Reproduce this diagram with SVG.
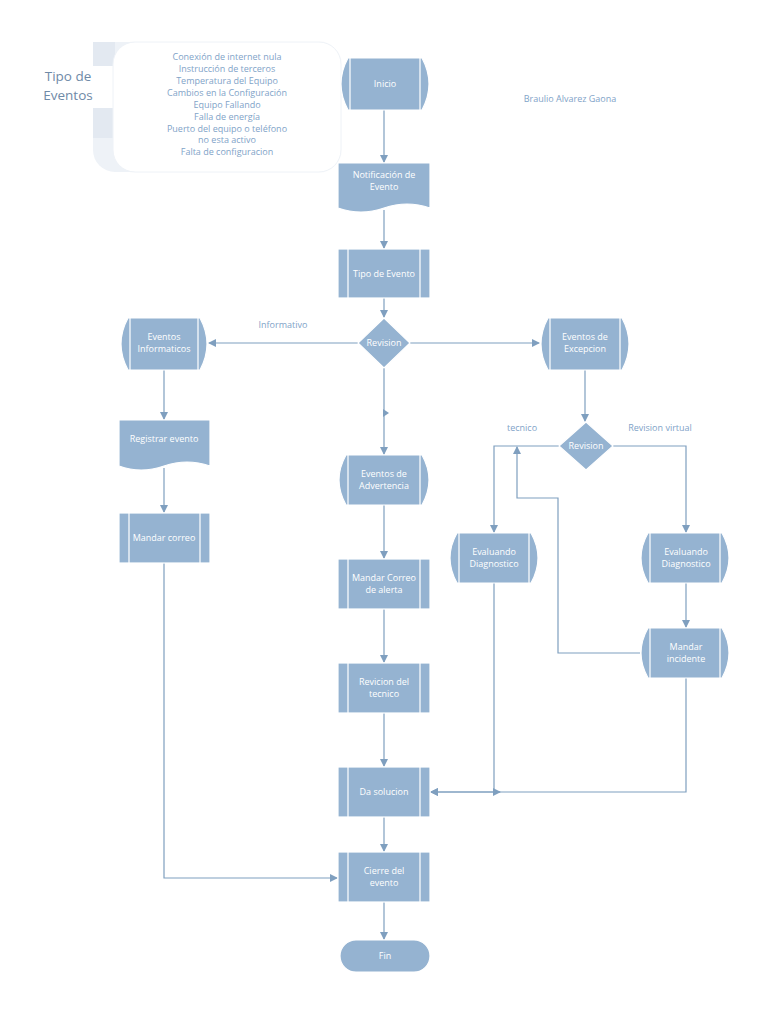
<svg xmlns="http://www.w3.org/2000/svg" width="768" height="1024" viewBox="0 0 768 1024">
<defs>
<style>
.n{fill:#95b3d1;stroke:#fff;stroke-width:1.2}
.t{font-family:"Open Sans","Liberation Sans",sans-serif;font-size:9px;fill:#fff;text-anchor:middle}
.l{font-family:"Open Sans","Liberation Sans",sans-serif;font-size:9px;fill:#7fa3c8;text-anchor:middle}
.c{fill:none;stroke:#7f9fbf;stroke-width:1.2}
.w{fill:none;stroke:#fff;stroke-width:1.2}
</style>
<marker id="a" markerWidth="8" markerHeight="8" refX="7" refY="4" orient="auto" markerUnits="userSpaceOnUse"><path d="M0,0L8,4L0,8z" fill="#7f9fbf"/></marker>
</defs>
<g id="legend">
<rect x="93" y="42" width="240" height="130" rx="22" fill="#eef2f7"/>
<rect x="93" y="42" width="22" height="24" fill="#e3e9f1"/>
<rect x="93" y="108" width="22" height="30" fill="#e3e9f1"/>
<rect x="40" y="66" width="75" height="42" fill="#fff"/>
<rect x="113" y="42" width="228" height="130" rx="22" fill="#fff" stroke="#eef2f7"/>
<text x="68" y="81" style="font-family:'Open Sans','Liberation Sans',sans-serif;font-size:13.5px;fill:#6f8aa7;text-anchor:middle">Tipo de</text>
<text x="68" y="100" style="font-family:'Open Sans','Liberation Sans',sans-serif;font-size:13.5px;fill:#6f8aa7;text-anchor:middle">Eventos</text>
<text class="l" x="227" y="60">Conexión de internet nula</text>
<text class="l" x="227" y="72">Instrucción de terceros</text>
<text class="l" x="227" y="84">Temperatura del Equipo</text>
<text class="l" x="227" y="96">Cambios en la Configuración</text>
<text class="l" x="227" y="108">Equipo Fallando</text>
<text class="l" x="227" y="120">Falla de energía</text>
<text class="l" x="227" y="132">Puerto del equipo o teléfono</text>
<text class="l" x="227" y="143">no esta activo</text>
<text class="l" x="227" y="155">Falta de configuracion</text>
</g>
<text class="l" x="570" y="102">Braulio Alvarez Gaona</text>
<g id="connectors">
<path class="c" d="M384,110V162" marker-end="url(#a)"/>
<path class="c" d="M384,210V248" marker-end="url(#a)"/>
<path class="c" d="M384,298V317" marker-end="url(#a)"/>
<path class="c" d="M358,343H209" marker-end="url(#a)"/>
<path class="c" d="M410,343H539" marker-end="url(#a)"/>
<path class="c" d="M384,368V454" marker-end="url(#a)"/>
<path d="M383,409L389,413L383,417z" fill="#7f9fbf"/>
<path class="c" d="M164,370V419" marker-end="url(#a)"/>
<path class="c" d="M164,468V512" marker-end="url(#a)"/>
<path class="c" d="M164,563V878H337" marker-end="url(#a)"/>
<path class="c" d="M585,370V421" marker-end="url(#a)"/>
<path class="c" d="M559,446H494V532" marker-end="url(#a)"/>
<path class="c" d="M613,446H686V532" marker-end="url(#a)"/>
<path class="c" d="M686,583V627" marker-end="url(#a)"/>
<path class="c" d="M640,653H558V498H517V447" marker-end="url(#a)"/>
<path class="c" d="M494,583V792H431" marker-end="url(#a)"/>
<path class="c" d="M494,792H500" marker-end="url(#a)"/>
<path class="c" d="M686,678V792H431" marker-end="url(#a)"/>
<path class="c" d="M384,505V558" marker-end="url(#a)"/>
<path class="c" d="M384,609V662" marker-end="url(#a)"/>
<path class="c" d="M384,713V766" marker-end="url(#a)"/>
<path class="c" d="M384,817V851" marker-end="url(#a)"/>
<path class="c" d="M384,902V939" marker-end="url(#a)"/>
<text class="l" x="283" y="328">Informativo</text>
<text class="l" x="522" y="431">tecnico</text>
<text class="l" x="660" y="431">Revision virtual</text>
</g>
<g id="inicio"><path class="n" d="M348,58H422Q436,84 422,110H348Q334,84 348,58z"/><path class="w" d="M350,58V110M420,58V110"/><text class="t" x="385" y="87">Inicio</text></g>
<g id="notif"><path class="n" d="M338,163H430V208Q407,200 384,208Q361,216 338,208z"/><text class="t" x="384" y="178">Notificación de</text><text class="t" x="384" y="190">Evento</text></g>
<g id="tipo"><rect class="n" x="338" y="249" width="92" height="49"/><path class="w" d="M348,249V298M420,249V298"/><text class="t" x="384" y="277">Tipo de Evento</text></g>
<g id="rev1"><path class="n" d="M384,318L410,343L384,368L358,343z"/><text class="t" x="384" y="346">Revision</text></g>
<g id="einf"><path class="n" d="M128,318H200Q214,344 200,370H128Q114,344 128,318z"/><path class="w" d="M130,318V370M198,318V370"/><text class="t" x="164" y="340">Eventos</text><text class="t" x="164" y="352">Informaticos</text></g>
<g id="eexc"><path class="n" d="M548,318H622Q636,344 622,370H548Q534,344 548,318z"/><path class="w" d="M550,318V370M620,318V370"/><text class="t" x="585" y="340">Eventos de</text><text class="t" x="585" y="352">Excepcion</text></g>
<g id="registrar"><path class="n" d="M119,420H210V466Q187,458 164,466Q141,474 119,466z"/><text class="t" x="164" y="442">Registrar evento</text></g>
<g id="mcorreo"><rect class="n" x="119" y="513" width="91" height="50"/><path class="w" d="M129,513V563M200,513V563"/><text class="t" x="164" y="541">Mandar correo</text></g>
<g id="eadv"><path class="n" d="M346,455H422Q436,480 422,505H346Q332,480 346,455z"/><path class="w" d="M348,455V505M420,455V505"/><text class="t" x="384" y="477">Eventos de</text><text class="t" x="384" y="489">Advertencia</text></g>
<g id="alerta"><rect class="n" x="338" y="559" width="92" height="50"/><path class="w" d="M348,559V609M420,559V609"/><text class="t" x="384" y="581">Mandar Correo</text><text class="t" x="384" y="593">de alerta</text></g>
<g id="revtec"><rect class="n" x="338" y="663" width="92" height="50"/><path class="w" d="M348,663V713M420,663V713"/><text class="t" x="384" y="685">Revicion del</text><text class="t" x="384" y="697">tecnico</text></g>
<g id="sol"><rect class="n" x="338" y="767" width="92" height="50"/><path class="w" d="M348,767V817M420,767V817"/><text class="t" x="384" y="795">Da solucion</text></g>
<g id="cierre"><rect class="n" x="338" y="852" width="92" height="50"/><path class="w" d="M348,852V902M420,852V902"/><text class="t" x="384" y="874">Cierre del</text><text class="t" x="384" y="886">evento</text></g>
<g id="fin"><rect class="n" x="340" y="940" width="90" height="32" rx="16"/><text class="t" x="385" y="959">Fin</text></g>
<g id="rev2"><path class="n" d="M586,422L613,446L586,470L559,446z"/><text class="t" x="586" y="449">Revision</text></g>
<g id="evalL"><path class="n" d="M457,533H531Q545,558 531,583H457Q443,558 457,533z"/><path class="w" d="M459,533V583M529,533V583"/><text class="t" x="494" y="555">Evaluando</text><text class="t" x="494" y="567">Diagnostico</text></g>
<g id="evalR"><path class="n" d="M648,533H722Q736,558 722,583H648Q634,558 648,533z"/><path class="w" d="M650,533V583M720,533V583"/><text class="t" x="686" y="555">Evaluando</text><text class="t" x="686" y="567">Diagnostico</text></g>
<g id="incid"><path class="n" d="M648,628H722Q736,653 722,678H648Q634,653 648,628z"/><path class="w" d="M650,628V678M720,628V678"/><text class="t" x="686" y="650">Mandar</text><text class="t" x="686" y="662">incidente</text></g>
</svg>
